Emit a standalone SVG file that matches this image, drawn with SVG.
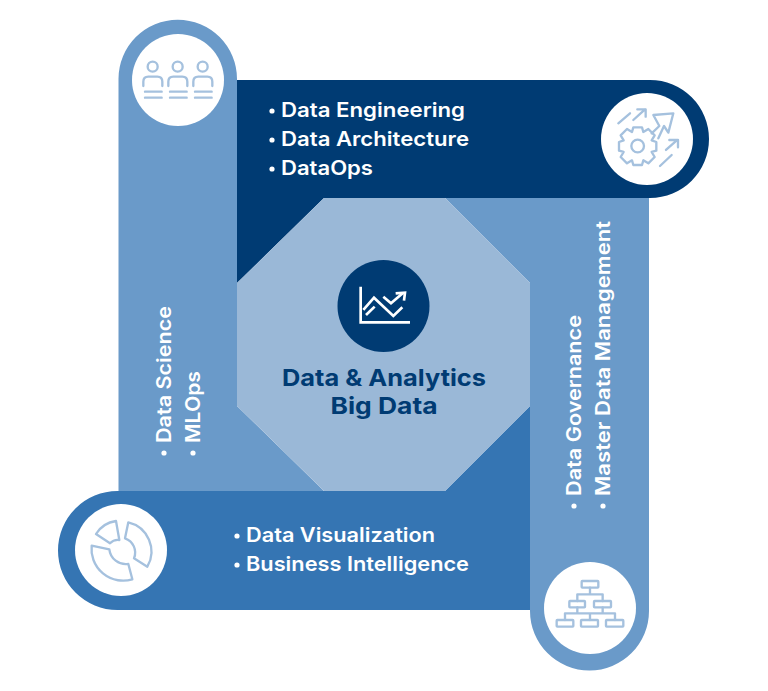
<svg xmlns="http://www.w3.org/2000/svg" width="768" height="691" viewBox="0 0 768 691">
<style>
.t{font-family:"Inter","Noto Sans","Liberation Sans",sans-serif;font-weight:600;font-size:20px;fill:#fff}
.c{font-family:"Inter","Noto Sans","Liberation Sans",sans-serif;font-weight:700;font-size:23.500px;fill:#003b73;text-anchor:middle}
.i{fill:none;stroke:#a5c1de;stroke-width:7;stroke-linejoin:round;stroke-linecap:round}
.w{fill:none;stroke:#fff;stroke-width:8;stroke-linejoin:miter}
.d{fill:#fff}
</style>
<rect width="768" height="691" fill="#fff"/>
<g id="connectors"></g>
<g id="node-science">
<path d="M118.500 79A59.250 59.250 0 0 1 237 79V283L237 406L324 491H118.500Z" fill="#6a9ac9"/>
<circle cx="178" cy="80" r="46" class="d"/>
<g class="i" transform="translate(120,20) scale(.3333)">
<circle cx="98" cy="140" r="15"/><circle cx="173" cy="140" r="15"/><circle cx="248" cy="140" r="15"/>
<path d="M70 198V185Q70 170 85 170H112Q127 170 127 185V198"/><path d="M145 198V185Q145 170 160 170H187Q202 170 202 185V198"/><path d="M220 198V185Q220 170 235 170H262Q277 170 277 185V198"/>
<path d="M75 215H125M75 233H125M150 215H200M150 233H200M225 215H275M225 233H275"/>
</g>
<text class="t" transform="translate(171,443) rotate(-90)" textLength="137" lengthAdjust="spacingAndGlyphs">Data Science</text>
<text class="t" transform="translate(200,443) rotate(-90)" textLength="72" lengthAdjust="spacingAndGlyphs">MLOps</text>
<circle cx="164" cy="453" r="2.600" class="d"/><circle cx="193" cy="453" r="2.600" class="d"/>
</g>
<g id="node-engineering">
<path d="M237 80H650A59 59 0 0 1 650 198H324L237 283Z" fill="#003b73"/>
<circle cx="647" cy="139" r="46" class="d"/>
<g class="i" transform="translate(590,90) scale(.3333)">
<circle cx="143" cy="168" r="19"/>
<path d="M130 112L156 112L160 126L175 117L194 136L185 151L199 156L199 182L185 186L194 201L175 220L160 211L156 225L130 225L126 211L111 220L92 201L101 186L87 182L87 156L101 151L92 136L111 117L126 126Z"/>
<path d="M185 130L208 108L190 75L250 70L235 128L222 108L205 145" />
<path d="M85 100L120 70M130 90L165 58M142 58H167V80M228 180L262 150M238 150H264V172M210 228L245 195"/>
</g>
<text class="t" x="281" y="117" textLength="184" lengthAdjust="spacingAndGlyphs">Data Engineering</text>
<text class="t" x="281" y="146" textLength="188" lengthAdjust="spacingAndGlyphs">Data Architecture</text>
<text class="t" x="281" y="175" textLength="92" lengthAdjust="spacingAndGlyphs">DataOps</text>
<circle cx="272" cy="111" r="2.600" class="d"/><circle cx="272" cy="140" r="2.600" class="d"/><circle cx="272" cy="169" r="2.600" class="d"/>
</g>
<g id="node-governance">
<path d="M445 198H649V611A59.500 59.500 0 0 1 530 611V283Z" fill="#6a9ac9"/>
<circle cx="590" cy="608" r="46" class="d"/>
<g class="i" transform="translate(530,550) scale(.3333)">
<rect x="155" y="93" width="50" height="20" rx="2"/><rect x="118" y="153" width="47" height="19" rx="2"/><rect x="192" y="153" width="51" height="19" rx="2"/>
<rect x="80" y="210" width="50" height="20" rx="2"/><rect x="153" y="210" width="51" height="20" rx="2"/><rect x="228" y="210" width="52" height="20" rx="2"/>
<path d="M180 113V133M142 153V133H218V153M142 172V190M218 172V190M105 210V190H255V210M180 190V210"/>
</g>
<text class="t" transform="translate(581,496) rotate(-90)" textLength="181" lengthAdjust="spacingAndGlyphs">Data Governance</text>
<text class="t" transform="translate(610,496) rotate(-90)" textLength="275" lengthAdjust="spacingAndGlyphs">Master Data Management</text>
<circle cx="574" cy="506" r="2.600" class="d"/><circle cx="603" cy="506" r="2.600" class="d"/>
</g>
<g id="node-visualization">
<path d="M117.500 491H445L530 406V610H117.500A59.500 59.500 0 0 1 117.500 491Z" fill="#3575b3"/>
<circle cx="121" cy="550" r="46" class="d"/>
<g class="i" transform="translate(60,490) scale(.3333)">
<path d="M108 132A85 85 0 0 1 168 93L178 150A32 32 0 0 0 150 160Z"/>
<path d="M205 97A90 90 0 0 1 262 230L222 205A45 45 0 0 0 195 145Z"/>
<path d="M95 167A95 95 0 0 0 217 268L205 222A50 50 0 0 1 148 178Z"/>
</g>
<text class="t" x="246" y="542" textLength="189" lengthAdjust="spacingAndGlyphs">Data Visualization</text>
<text class="t" x="246" y="571" textLength="223" lengthAdjust="spacingAndGlyphs">Business Intelligence</text>
<circle cx="237" cy="536" r="2.600" class="d"/><circle cx="237" cy="565" r="2.600" class="d"/>
</g>
<g id="node-center">
<path d="M324 198H445L530 283V406L445 491H324L237 406V283Z" fill="#9ab8d7"/>
<circle cx="383.500" cy="306" r="46" fill="#003b73"/>
<g class="w" transform="translate(330,250) scale(.3333)">
<path d="M92 110V217H240"/>
<path d="M100 180L132 143L190 198L217 172"/>
<path d="M108 195L134 170"/>
<path d="M160 140L183 160L218 130"/>
<path d="M197 130L225 128L222 152"/>
</g>
<text class="c" x="384" y="386" textLength="204" lengthAdjust="spacingAndGlyphs">Data &amp; Analytics</text>
<text class="c" x="384" y="414" textLength="107" lengthAdjust="spacingAndGlyphs">Big Data</text>
</g>
</svg>
